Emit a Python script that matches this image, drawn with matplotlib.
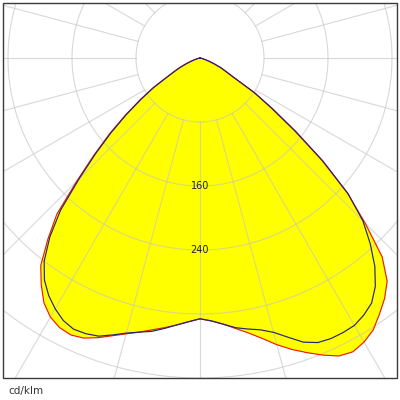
import numpy as np
import matplotlib
matplotlib.use("Agg")
import matplotlib.pyplot as plt
from matplotlib.patches import Rectangle

# gamma angles (degrees from nadir) for each half-plane
gamma = np.arange(0, 90.1, 2.5)

# C0 (right, red)
c0 = [326, 329, 334, 341, 349, 359, 371, 382, 392, 402, 411, 414, 410, 403, 391, 379, 364, 337,
      292, 250, 199, 148, 108, 80, 48, 36, 28, 19, 12, 7, 4, 2, 1, 0, 0, 0, 0]
# C180 (left, red)
c180 = [326, 330, 335, 340, 345, 351, 357, 364, 372, 379, 382, 380, 374, 363, 346, 327, 296, 265,
        218, 180, 148, 118, 92, 70, 48, 36, 27, 19, 12, 7, 4, 2, 1, 0, 0, 0, 0]
# C90 (right, blue)
c90 = [326, 329, 334, 340, 344, 348, 355, 366, 378, 385, 387, 387, 386, 381, 374, 360, 340, 315,
       288, 251, 201, 151, 111, 81, 50, 37, 29, 20, 13, 7, 4, 2, 1, 0, 0, 0, 0]
# C270 (left, blue)
c270 = [326, 330, 335, 341, 347, 351, 356, 363, 370, 373, 374, 370, 362, 352, 339, 320, 292, 258,
        214, 177, 145, 116, 90, 69, 47, 35, 26, 18, 12, 7, 4, 2, 1, 0, 0, 0, 0]

ring_values = [80, 160, 240, 320, 400, 480]
ring_labels = ["160", "240"]
unit_label = "cd/klm"

W, H = 400, 400
fig = plt.figure(figsize=(4, 4), dpi=100)
fig.patch.set_facecolor("white")

cx, cy = 200, 58          # polar origin in pixels (from top-left)
rmax = 480.0
rad_px = 384.0
ax = fig.add_axes([(cx - rad_px) / W, (H - cy - rad_px) / H, 2 * rad_px / W, 2 * rad_px / H],
                  projection="polar")
ax.set_theta_zero_location("S")
ax.set_theta_direction(1)
ax.set_rlim(0, rmax)
ax.patch.set_visible(False)
ax.spines["polar"].set_visible(False)
ax.set_xticks([])
ax.set_yticks([])
ax.grid(False)

g = np.radians(gamma)

def half_curve(left, right):
    th = np.concatenate([-g[::-1], g[1:]])
    r = np.concatenate([np.asarray(left, float)[::-1], np.asarray(right, float)[1:]])
    return th, r

th_red, r_red = half_curve(c180, c0)
th_blue, r_blue = half_curve(c270, c90)

ax.fill(th_red, r_red, color="#ffff00", zorder=1, lw=0)
ax.fill(th_blue, r_blue, color="#ffff00", zorder=1, lw=0)

# grid
gcol = "#c4c4c4"
tt = np.linspace(0, 2 * np.pi, 1441)
for rv in ring_values:
    ax.plot(tt, np.full_like(tt, rv), color=gcol, lw=0.8, alpha=0.65, zorder=2)
for k in range(24):
    t = np.radians(15 * k)
    ax.plot([t, t], [ring_values[0], rmax], color=gcol, lw=0.8, alpha=0.65, zorder=2)

ax.plot(th_red, r_red, color="#ee1c00", lw=0.85, zorder=3)
ax.plot(th_blue, r_blue, color="#25237a", lw=0.85, zorder=4)

for lab in ring_labels:
    ax.text(0, float(lab), lab, ha="center", va="center", fontsize=7, color="#222222", zorder=5)

clip = Rectangle((3 / W, 22 / H), 394 / W, 375 / H, transform=fig.transFigure)
for a in list(ax.lines) + list(ax.patches) + list(ax.texts):
    a.set_clip_path(clip)

frame = Rectangle((3 / W, 22 / H), 394 / W, 375 / H, transform=fig.transFigure,
                  fill=False, edgecolor="#3a3a3a", lw=1.0, zorder=10)
fig.add_artist(frame)

fig.text(8 / W, 1 - 391 / H, unit_label, ha="left", va="center", fontsize=7.5, color="#333333")

fig.savefig("out.png", dpi=100)
